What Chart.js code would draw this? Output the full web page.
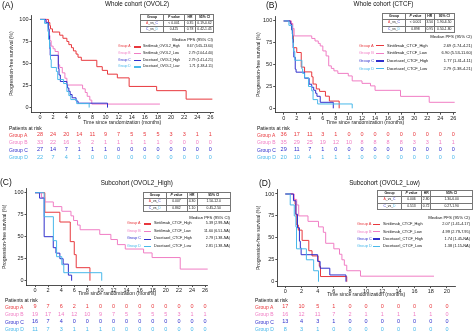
<!DOCTYPE html>
<html><head><meta charset="utf-8">
<script src="https://cdn.jsdelivr.net/npm/chart.js@4.4.1/dist/chart.umd.min.js"></script>
<style>
html,body{margin:0;padding:0;background:#fff;}
body{width:474px;height:333px;position:relative;overflow:hidden;font-family:"Liberation Sans",Arial,Helvetica,sans-serif;color:#111;}
.t{position:absolute;white-space:nowrap;}
canvas{position:absolute;}
table.st{position:absolute;border-collapse:collapse;table-layout:fixed;font-size:3.4px;line-height:3.4px;}
table.st td{border:1px solid #777;padding:0;text-align:center;overflow:hidden;white-space:nowrap;}
</style></head><body>
<script>
// ---------- shared labels ----------
const groupLabels = ['Group A', 'Group B', 'Group C', 'Group D'];
const xTicks26 = [0, 2, 4, 6, 8, 10, 12, 14, 16, 18, 20, 22, 24, 26];
const xTicks20 = [0, 2, 4, 6, 8, 10, 12, 14, 16, 18, 20];
const yTicks = [0, 25, 50, 75, 100];
const xTitle = 'Time since randomization (months)';
const yTitle = 'Progression-free survival (%)';
const tableHeader = ['Group', '<i>P</i> value', 'HR', '95% CI'];

// ---------- Panel A : Whole cohort (OVOL2) ----------
const A_grpA_t = [0, 1.3, 1.5, 1.6, 1.9, 3.0, 3.5, 4.1, 4.4, 4.8, 5.1, 5.5, 5.8, 6.3, 8.67, 9.5, 10.3, 11.8, 13.6, 17.8, 22.3, 26.3];
const A_grpA_s = [100, 96.4, 92.9, 89.3, 85.7, 82.1, 78.6, 75.0, 71.4, 67.9, 64.3, 60.7, 57.1, 53.6, 46.4, 42.2, 37.9, 33.7, 24.0, 19.2, 9.6, 9.6];
const A_grpB_t = [0, 1.0, 1.2, 1.35, 1.5, 1.7, 2.0, 2.3, 2.79, 3.0, 3.4, 3.8, 4.1, 6.5, 6.9, 7.2, 7.6, 7.9, 18.3];
const A_grpB_s = [100, 97.0, 90.9, 81.8, 75.8, 69.7, 66.7, 63.6, 48.5, 45.5, 39.4, 33.3, 25.6, 21.3, 17.1, 12.8, 8.5, 4.0, 4.0];
const A_grpC_t = [0, 0.9, 1.3, 1.4, 1.45, 1.5, 1.55, 2.79, 2.9, 3.1, 4.1, 4.2, 4.4, 4.6, 4.9, 5.5, 5.8, 10.3];
const A_grpC_s = [100, 96.3, 88.9, 81.5, 74.1, 66.7, 59.3, 44.4, 37.0, 29.6, 25.9, 22.2, 18.5, 14.8, 11.1, 7.4, 5.0, 0];
const A_grpD_t = [0, 0.7, 1.2, 1.3, 1.45, 1.6, 1.71, 2.5, 2.7, 3.6, 4.1, 4.4, 4.7, 5.6, 7.5];
const A_grpD_s = [100, 95.5, 86.4, 77.3, 68.2, 54.5, 45.5, 40.9, 31.8, 27.3, 18.2, 13.6, 9.1, 4.5, 0];
const A_risk = [
  [28, 24, 20, 14, 11, 9, 7, 5, 5, 5, 3, 3, 1, 1],
  [33, 22, 16, 5, 2, 1, 1, 1, 1, 1, 0, 0, 0, 0],
  [27, 14, 7, 1, 1, 1, 0, 0, 0, 0, 0, 0, 0, 0],
  [22, 7, 4, 1, 0, 0, 0, 0, 0, 0, 0, 0, 0, 0]];
const A_names = ['Sintilimab_OVOL2_High', 'Sintilimab_OVOL2_Low', 'Docetaxel_OVOL2_High', 'Docetaxel_OVOL2_Low'];
const A_medians = ['8.67 (5.65-13.60)', '2.79 (2.04-4.40)', '2.79 (1.41-4.21)', '1.71 (1.38-4.11)'];
const A_table = [['A_vs_C', '< 0.001', '0.35', '0.19-0.62'], ['C_vs_D', '0.425', '0.78', '0.42-1.45']];

// ---------- Panel B : Whole cohort (CTCF) ----------
const B_grpA_t = [0, 1.1, 1.3, 1.4, 1.5, 2.0, 2.69, 3.2, 4.3, 4.5, 5.0, 5.5, 6.4, 7.0, 8.5];
const B_grpA_s = [100, 97.2, 91.7, 83.3, 69.4, 63.9, 47.2, 41.7, 36.1, 27.8, 22.2, 19.4, 13.9, 8.3, 0];
const B_grpB_t = [0, 1.2, 1.4, 1.6, 4.3, 4.8, 5.3, 5.6, 6.0, 6.5, 6.9, 7.3, 7.7, 8.3, 9.9, 10.5, 12.0, 13.3, 14.0, 17.9, 22.3, 26.2];
const B_grpB_s = [100, 97.1, 91.4, 82.9, 80.0, 77.1, 74.3, 71.4, 65.7, 60.0, 48.6, 45.7, 42.9, 40.0, 37.1, 31.4, 28.6, 25.7, 20.6, 13.7, 6.9, 6.9];
const B_grpC_t = [0, 1.0, 1.2, 1.35, 1.45, 1.55, 1.77, 1.9, 3.2, 3.9, 4.3, 4.6, 4.9, 5.1, 5.6, 7.6];
const B_grpC_s = [100, 96.6, 89.7, 79.3, 69.0, 58.6, 44.8, 41.4, 34.5, 27.6, 24.1, 20.7, 17.2, 13.8, 6.9, 0];
const B_grpD_t = [0, 0.8, 1.3, 1.4, 1.5, 1.7, 2.79, 2.9, 3.2, 3.8, 4.3, 4.5, 5.2, 10.5];
const B_grpD_s = [100, 95, 85, 75, 65, 55, 45, 40, 35, 25, 20, 10, 5, 0];
const B_risk = [
  [36, 17, 11, 3, 1, 0, 0, 0, 0, 0, 0, 0, 0, 0],
  [35, 29, 25, 19, 12, 10, 8, 8, 8, 8, 3, 3, 1, 1],
  [29, 11, 7, 1, 0, 0, 0, 0, 0, 0, 0, 0, 0, 0],
  [20, 10, 4, 1, 1, 1, 0, 0, 0, 0, 0, 0, 0, 0]];
const CTCF_names = ['Sintilimab_CTCF_High', 'Sintilimab_CTCF_Low', 'Docetaxel_CTCF_High', 'Docetaxel_CTCF_Low'];
const B_medians = ['2.69 (1.74-4.21)', '6.90 (5.53-11.60)', '1.77 (1.41-4.11)', '2.79 (1.38-4.21)'];
const B_table = [['A_vs_C', '< 0.001', '3.50', '1.90-6.50'], ['C_vs_D', '0.898', '0.95', '0.50-1.80']];

// ---------- Panel C : Subcohort (OVOL2_High) ----------
const C_grpA_t = [0, 1.5, 3.8, 5.39, 6.0, 6.3, 8.4];
const C_grpA_s = [100, 77.8, 66.7, 44.4, 29.6, 14.8, 0];
const C_grpB_t = [0, 1.0, 1.5, 2.8, 4.1, 5.5, 5.9, 6.5, 6.9, 9.9, 11.6, 12.6, 13.8, 16.6, 17.9, 22.2, 26.5];
const C_grpB_s = [100, 94.7, 89.5, 84.2, 78.9, 73.7, 68.4, 63.2, 57.9, 52.6, 46.8, 41.0, 36.0, 31.6, 26.3, 13.2, 13.2];
const C_grpC_t = [0, 0.7, 1.4, 2.79, 3.2, 3.8, 4.3, 5.1, 5.6];
const C_grpC_s = [100, 93.8, 50.0, 37.5, 31.3, 25.0, 18.8, 6.3, 0];
const C_grpD_t = [0, 1.4, 2.81, 3.3, 4.1, 4.4, 10.2];
const C_grpD_s = [100, 72.7, 45.5, 27.3, 18.2, 9.1, 0];
const C_risk = [
  [9, 7, 6, 2, 1, 0, 0, 0, 0, 0, 0, 0, 0, 0],
  [19, 17, 14, 12, 10, 9, 7, 5, 5, 5, 5, 3, 1, 1],
  [16, 7, 4, 0, 0, 0, 0, 0, 0, 0, 0, 0, 0, 0],
  [11, 7, 3, 1, 1, 1, 0, 0, 0, 0, 0, 0, 0, 0]];
const C_medians = ['5.39 (2.99-NA)', '11.60 (6.51-NA)', '2.79 (1.38-NA)', '2.81 (1.38-NA)'];
const C_table = [['A_vs_C', '0.007', '4.30', '1.50-12.0'], ['C_vs_D', '0.862', '1.10', '0.45-2.50']];

// ---------- Panel D : Subcohort (OVOL2_Low) ----------
const D_grpA_t = [0, 1.0, 1.2, 1.3, 1.4, 1.6, 2.07, 2.9, 3.3, 4.05, 4.2, 4.35, 7.6];
const D_grpA_s = [100, 94.1, 88.2, 76.5, 64.7, 58.8, 47.1, 35.3, 29.4, 23.5, 17.6, 5.9, 0];
const D_grpB_t = [0, 1.1, 1.4, 1.65, 2.8, 4.1, 4.7, 4.99, 6.0, 6.7, 7.0, 7.3, 7.6, 9.3, 18.4];
const D_grpB_s = [100, 93.8, 87.5, 75.0, 68.8, 62.5, 56.3, 43.8, 37.5, 31.3, 25.0, 18.8, 12.5, 6.3, 6.3];
const D_grpC_t = [0, 1.0, 1.3, 1.5, 1.74, 1.85, 1.95, 4.0, 4.3, 5.5, 7.5];
const D_grpC_s = [100, 92.3, 76.9, 61.5, 46.2, 38.5, 30.8, 23.1, 15.4, 7.7, 0];
const D_grpD_t = [0, 0.6, 1.1, 1.3, 1.38, 2.6, 3.5, 4.1];
const D_grpD_s = [100, 87.5, 75.0, 62.5, 37.5, 25.0, 12.5, 0];
const D_risk = [
  [17, 10, 5, 1, 0, 0, 0, 0, 0, 0, 0],
  [16, 12, 11, 7, 2, 1, 1, 1, 1, 1, 0],
  [13, 4, 3, 1, 0, 0, 0, 0, 0, 0, 0],
  [8, 3, 1, 0, 0, 0, 0, 0, 0, 0, 0]];
const D_medians = ['2.07 (1.41-4.17)', '4.99 (2.79-7.95)', '1.74 (1.45-NA)', '1.38 (1.15-NA)'];
const D_table = [['A_vs_C', '0.006', '2.80', '1.30-6.00'], ['C_vs_D', '0.513', '0.72', '0.27-1.90']];

// ---------- styles / layout (not data) ----------
const COLORS = ['#E8383D', '#F07DC4', '#2F2FCC', '#48B8EA'];

const panels = [
  { tag: '(A)', title: 'Whole cohort (OVOL2)', series: [[A_grpA_t, A_grpA_s], [A_grpB_t, A_grpB_s], [A_grpC_t, A_grpC_s], [A_grpD_t, A_grpD_s]],
    risk: A_risk, xticks: xTicks26, names: A_names, medians: A_medians, table: A_table,
    cv: { x: 0, y: 0, w: 237, h: 126, yw: 31.5, top: 15, right: 24, xh: 14, xmin: -1.3, xmax: 26.4, ytp: 9 },
    tagPos: [2, 5], titlePos: [137, 3.8],
    riskY: [128.5, 135, 142.5, 150, 157.5], riskLabelX: 9,
    tbl: { x: 140, y: 14, w: 73, h: 19, cols: [23, 21, 11, 18] },
    leg: { fs: 3.4, hfs: 4.2, hx: 213, hy: 40, lx: 118, l0: 134, l1: 141, nx: 143, ys: [47, 53.7, 60.3, 67] } },
  { tag: '(B)', title: 'Whole cohort (CTCF)', series: [[B_grpA_t, B_grpA_s], [B_grpB_t, B_grpB_s], [B_grpC_t, B_grpC_s], [B_grpD_t, B_grpD_s]],
    risk: B_risk, xticks: xTicks26, names: CTCF_names, medians: B_medians, table: B_table,
    cv: { x: 237, y: 0, w: 237, h: 126, yw: 38.2, top: 16.6, right: 19, xh: 13.3, xmin: -1.3, xmax: 26.25, ytp: 18.7 },
    tagPos: [266, 5], titlePos: [383.5, 3.8],
    riskY: [128.5, 135, 142.5, 150, 157.5], riskLabelX: 257,
    tbl: { x: 382, y: 13, w: 72, h: 20, cols: [23, 20, 8.5, 20.5] },
    leg: { fs: 4.0, hfs: 4.3, hx: 472, hy: 37.5, lx: 359, l0: 376, l1: 384, nx: 387, ys: [45.7, 53.3, 61, 68.7] } },
  { tag: '(C)', title: 'Subcohort (OVOL2_High)', series: [[C_grpA_t, C_grpA_s], [C_grpB_t, C_grpB_s], [C_grpC_t, C_grpC_s], [C_grpD_t, C_grpD_s]],
    risk: C_risk, xticks: xTicks26, names: CTCF_names, medians: C_medians, table: C_table,
    cv: { x: 0, y: 170, w: 237, h: 127, yw: 26.5, top: 18.3, right: 29.3, xh: 11.9, xmin: -1.3, xmax: 26.4, ytp: 2 },
    tagPos: [0, 182], titlePos: [136.7, 183.3],
    riskY: [300, 307, 314.5, 322, 329.5], riskLabelX: 5,
    tbl: { x: 143, y: 192, w: 87, h: 20, cols: [22.5, 21, 10, 33.5] },
    leg: { fs: 3.7, hfs: 4.2, hx: 230, hy: 217.7, lx: 127, l0: 144, l1: 151, nx: 154, ys: [224, 231.7, 239.3, 246.7] } },
  { tag: '(D)', title: 'Subcohort (OVOL2_Low)', series: [[D_grpA_t, D_grpA_s], [D_grpB_t, D_grpB_s], [D_grpC_t, D_grpC_s], [D_grpD_t, D_grpD_s]],
    risk: D_risk, xticks: xTicks20, names: CTCF_names, medians: D_medians, table: D_table,
    cv: { x: 237, y: 170, w: 237, h: 128, yw: 40.3, top: 19.6, right: 19, xh: 11.9, xmin: -1, xmax: 21, ytp: 18.7 },
    tagPos: [259, 183], titlePos: [384.5, 183.3],
    riskY: [300, 307, 314.5, 322, 329.5], riskLabelX: 255,
    tbl: { x: 377, y: 190, w: 95, h: 20, cols: [24, 20, 9.3, 41.7] },
    leg: { fs: 3.9, hfs: 4.3, hx: 470, hy: 217.7, lx: 357, l0: 373, l1: 380, nx: 383, ys: [224.3, 231.5, 239, 246.3] } }
];

function text(str, x, y, o = {}) {
  const d = document.createElement('div');
  d.className = 't';
  const fs = o.fs || 5;
  d.style.fontSize = fs + 'px';
  d.style.lineHeight = fs + 'px';
  d.style.left = x + 'px';
  d.style.top = (y - fs / 2) + 'px';
  if (o.color) d.style.color = o.color;
  if (o.weight) d.style.fontWeight = o.weight;
  const tx = o.align === 'center' ? '-50%' : o.align === 'right' ? '-100%' : '0';
  d.style.transform = 'translateX(' + tx + ')';
  if (o.html) d.innerHTML = str; else d.textContent = str;
  document.body.appendChild(d);
  return d;
}

function colorCmp(s) {
  const [a, b] = s.split('_vs_');
  const ci = l => 'ABCD'.indexOf(l);
  return '<span style="color:' + COLORS[ci(a)] + '">' + a + '</span>_vs_<span style="color:' + COLORS[ci(b)] + '">' + b + '</span>';
}

function buildTable(p) {
  const T = p.tbl;
  const tb = document.createElement('table');
  tb.className = 'st';
  tb.style.left = T.x + 'px'; tb.style.top = T.y + 'px';
  tb.style.width = T.w + 'px'; tb.style.height = T.h + 'px';
  const cg = document.createElement('colgroup');
  T.cols.forEach(w => { const c = document.createElement('col'); c.style.width = w + 'px'; cg.appendChild(c); });
  tb.appendChild(cg);
  const hr = document.createElement('tr');
  tableHeader.forEach(h => { const td = document.createElement('td'); td.innerHTML = h; td.style.fontWeight = 'bold'; hr.appendChild(td); });
  tb.appendChild(hr);
  p.table.forEach(row => {
    const tr = document.createElement('tr');
    row.forEach((v, i) => { const td = document.createElement('td'); if (i === 0) td.innerHTML = colorCmp(v); else td.textContent = v; tr.appendChild(td); });
    tb.appendChild(tr);
  });
  document.body.appendChild(tb);
}

function buildPanel(p) {
  const c = p.cv;
  const cv = document.createElement('canvas');
  cv.width = c.w; cv.height = c.h;
  cv.style.left = c.x + 'px'; cv.style.top = c.y + 'px';
  cv.style.width = c.w + 'px'; cv.style.height = c.h + 'px';
  document.body.appendChild(cv);
  const tickFont = { family: '"Liberation Sans", Arial, sans-serif', size: 5.5 };
  const titleFont = { family: '"Liberation Sans", Arial, sans-serif', size: 5 };
  const chart = new Chart(cv, {
    type: 'line',
    data: {
      datasets: p.series.map((s, i) => ({
        label: groupLabels[i],
        data: s[0].map((t, j) => ({ x: t, y: s[1][j] })),
        borderColor: COLORS[i], backgroundColor: COLORS[i],
        borderWidth: 1, stepped: 'before', pointRadius: 0, fill: false
      })).reverse()
    },
    options: {
      responsive: false, animation: false, devicePixelRatio: 1,
      layout: { padding: { left: 0, top: c.top, right: c.right, bottom: 0 } },
      plugins: { legend: { display: false }, tooltip: { enabled: false } },
      scales: {
        x: {
          type: 'linear', min: c.xmin, max: c.xmax,
          afterBuildTicks: s => { s.ticks = p.xticks.map(v => ({ value: v })); },
          afterFit: s => { s.height = c.xh; },
          ticks: { font: tickFont, color: '#222', padding: 0, maxRotation: 0, autoSkip: false },
          grid: { drawOnChartArea: false, drawTicks: true, tickLength: 2, color: '#222', lineWidth: 0.8 },
          border: { display: true, color: '#222', width: 0.8 },
          title: { display: true, text: xTitle, font: titleFont, color: '#222', padding: 0 }
        },
        y: {
          min: -5, max: 105,
          afterBuildTicks: s => { s.ticks = yTicks.map(v => ({ value: v })); },
          afterFit: s => { s.width = c.yw; },
          ticks: { font: tickFont, color: '#222', padding: 1 },
          grid: { drawOnChartArea: false, drawTicks: true, tickLength: 2, color: '#222', lineWidth: 0.8 },
          border: { display: true, color: '#222', width: 0.8 },
          title: { display: true, text: yTitle, font: titleFont, color: '#222', padding: { top: c.ytp, bottom: 0 } }
        }
      }
    }
  });

  // titles
  text(p.tag, p.tagPos[0], p.tagPos[1], { fs: 8.5 });
  text(p.title, p.titlePos[0], p.titlePos[1], { fs: 6.3, align: 'center' });

  // p-value table
  buildTable(p);

  // legend with medians
  const L = p.leg;
  text('Median PFS (95% CI)', L.hx, L.hy, { fs: L.hfs, align: 'right' });
  L.ys.forEach((y, i) => {
    text(groupLabels[i], L.lx, y, { fs: L.fs, color: COLORS[i] });
    const ln = document.createElement('div');
    ln.style.cssText = 'position:absolute;left:' + L.l0 + 'px;top:' + (y - 0.75) + 'px;width:' + (L.l1 - L.l0) + 'px;height:1.5px;background:' + COLORS[i];
    document.body.appendChild(ln);
    text(p.names[i], L.nx, y, { fs: L.fs });
    text(p.medians[i], L.hx, y, { fs: L.fs, align: 'right' });
  });

  // risk table aligned with the chart's x scale
  const xs = chart.scales.x;
  text('Patients at risk', p.riskLabelX, p.riskY[0], { fs: 5 });
  p.risk.forEach((row, i) => {
    const y = p.riskY[i + 1];
    text(groupLabels[i], p.riskLabelX, y, { fs: 5, color: COLORS[i] });
    row.forEach((v, j) => {
      const px = c.x + xs.getPixelForValue(p.xticks[j]);
      text(String(v), px, y, { fs: 5.5, color: COLORS[i], align: 'center' });
    });
  });
}

panels.forEach(buildPanel);
</script>
</body></html>
